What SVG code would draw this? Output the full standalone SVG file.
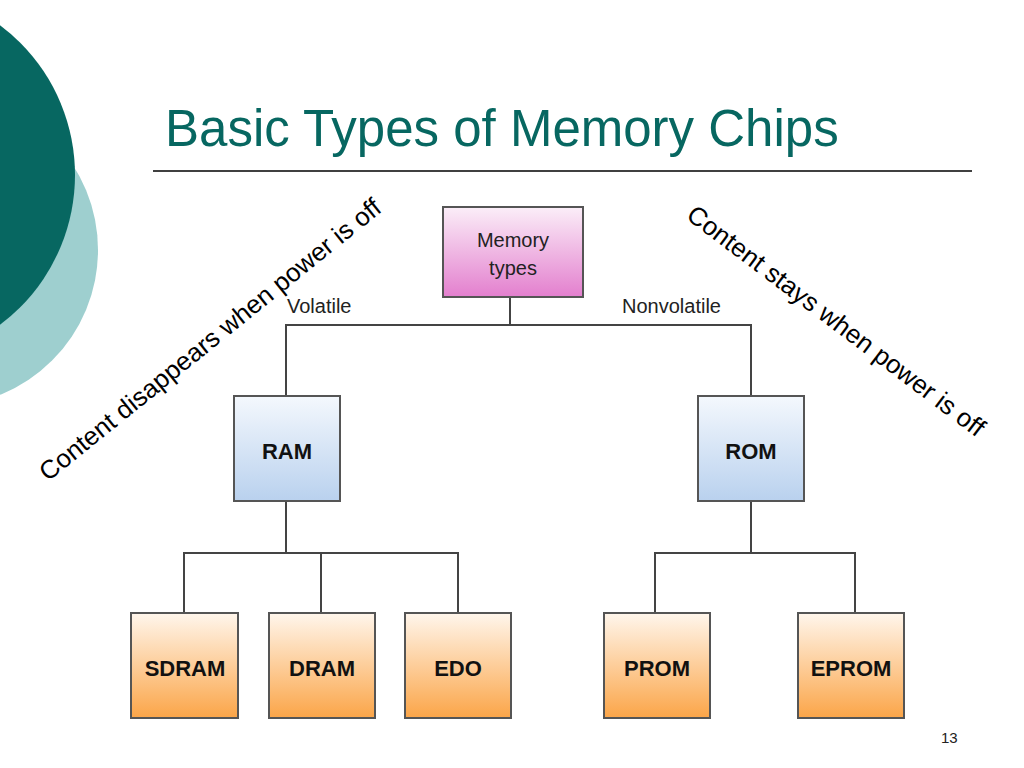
<svg xmlns="http://www.w3.org/2000/svg" width="1024" height="768" viewBox="0 0 1024 768">
<style>
.box{stroke:#555;stroke-width:2}
.bl{font-family:"Liberation Sans",Arial,sans-serif;font-weight:bold;font-size:22px;text-anchor:middle;fill:#111}
.ln{stroke:#444;stroke-width:2;fill:none}
.rt{font-family:"Liberation Sans",Arial,sans-serif;font-size:25.8px;fill:#000}
</style>
<defs>
<linearGradient id="pk" x1="0" y1="0" x2="0" y2="1"><stop offset="0" stop-color="#fbeef8"/><stop offset="1" stop-color="#e37fce"/></linearGradient>
<linearGradient id="bu" x1="0" y1="0" x2="0" y2="1"><stop offset="0" stop-color="#f4f8fd"/><stop offset="1" stop-color="#b9d1ee"/></linearGradient>
<linearGradient id="or" x1="0" y1="0" x2="0" y2="1"><stop offset="0" stop-color="#fff6ec"/><stop offset="1" stop-color="#fba548"/></linearGradient>
</defs>
<rect width="1024" height="768" fill="#fff"/>
<circle cx="-58" cy="250" r="156" fill="#9ecfcf"/>
<circle cx="-112" cy="175" r="187" fill="#076761"/>
<text x="165" y="146" font-family="Liberation Sans,Arial,sans-serif" font-size="51" fill="#076761">Basic Types of Memory Chips</text>
<line x1="153" y1="171" x2="972" y2="171" stroke="#000" stroke-width="1.5"/>
<text x="941" y="743" font-family="Liberation Sans,Arial,sans-serif" font-size="15" fill="#222">13</text>
<g id="connectors">
<path class="ln" d="M510 297V325M286 396V325H751V396M286 501V553M184 613V553H458V613M321 553V613M751 501V553M655 613V553H855V613"/>
</g>
<text x="287" y="313" font-family="Liberation Sans,Arial,sans-serif" font-size="20" fill="#222">Volatile</text>
<text x="622" y="313" font-family="Liberation Sans,Arial,sans-serif" font-size="20" fill="#222">Nonvolatile</text>
<g id="memory"><rect class="box" x="443" y="207" width="140" height="90" fill="url(#pk)"/><text x="513" y="247" font-family="Liberation Sans,Arial,sans-serif" font-size="20" text-anchor="middle" fill="#222">Memory</text><text x="513" y="275" font-family="Liberation Sans,Arial,sans-serif" font-size="20" text-anchor="middle" fill="#222">types</text></g>
<g id="ram"><rect class="box" x="234" y="396" width="106" height="105" fill="url(#bu)"/><text class="bl" x="287" y="459">RAM</text></g>
<g id="rom"><rect class="box" x="698" y="396" width="106" height="105" fill="url(#bu)"/><text class="bl" x="751" y="459">ROM</text></g>
<g id="sdram"><rect class="box" x="131" y="613" width="107" height="105" fill="url(#or)"/><text class="bl" x="185" y="676">SDRAM</text></g>
<g id="dram"><rect class="box" x="269" y="613" width="106" height="105" fill="url(#or)"/><text class="bl" x="322" y="676">DRAM</text></g>
<g id="edo"><rect class="box" x="405" y="613" width="106" height="105" fill="url(#or)"/><text class="bl" x="458" y="676">EDO</text></g>
<g id="prom"><rect class="box" x="604" y="613" width="106" height="105" fill="url(#or)"/><text class="bl" x="657" y="676">PROM</text></g>
<g id="eprom"><rect class="box" x="798" y="613" width="106" height="105" fill="url(#or)"/><text class="bl" x="851" y="676">EPROM</text></g>
<text class="rt" transform="translate(48,482) rotate(-39)">Content disappears when power is off</text>
<text class="rt" transform="translate(685,218) rotate(37)">Content stays when power is off</text>
</svg>
